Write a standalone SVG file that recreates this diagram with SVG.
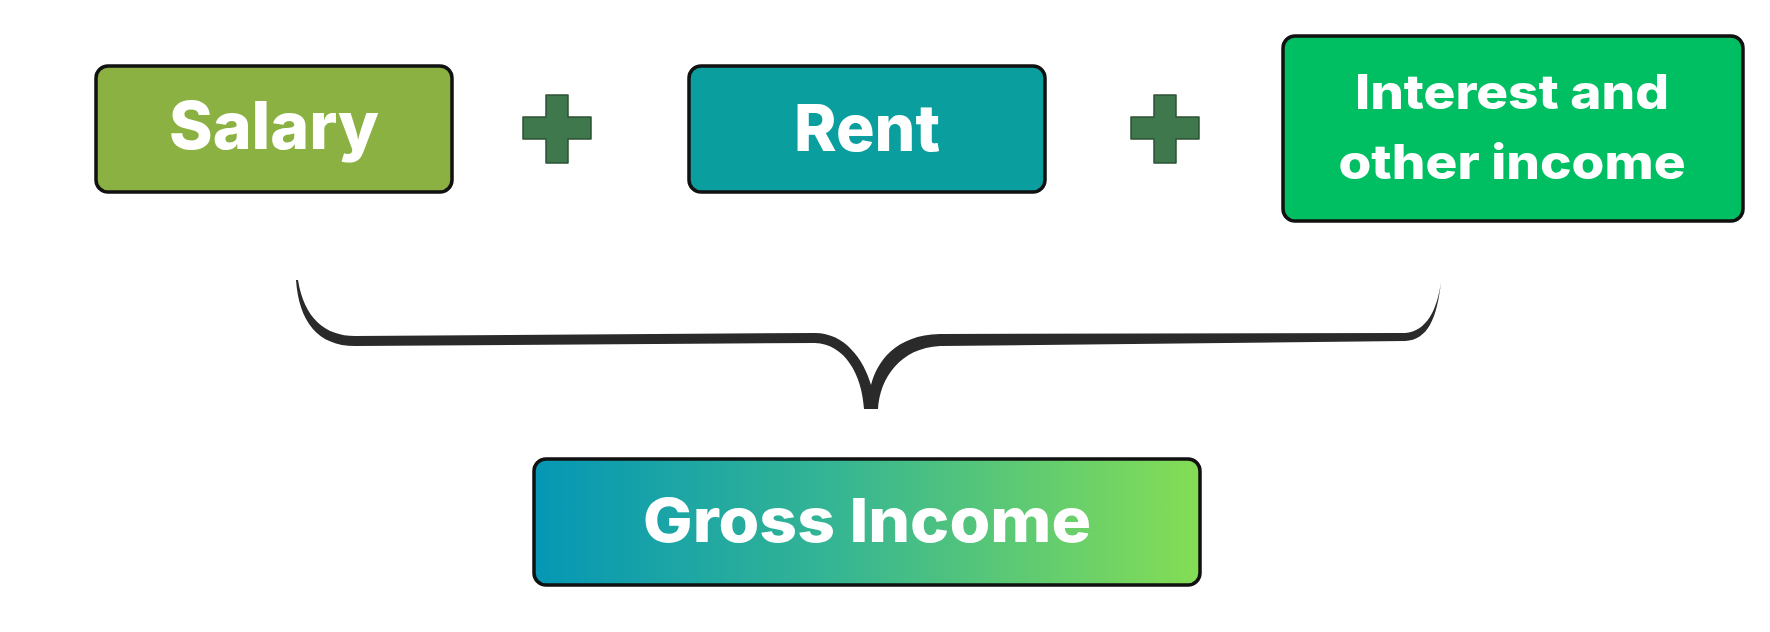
<svg xmlns="http://www.w3.org/2000/svg" width="1770" height="632" viewBox="0 0 1770 632">
  <defs>
    <linearGradient id="gGross" x1="0" y1="0" x2="1" y2="0">
      <stop offset="0" stop-color="#0597b5"/>
      <stop offset="0.45" stop-color="#35b593"/>
      <stop offset="1" stop-color="#84dd54"/>
    </linearGradient>
    <path id="plus" d="M-11,-34 H11 V-12 H34 V10 H11 V34 H-11 V10 H-34 V-12 H-11 Z"/>
  </defs>
  <style>
    .box { stroke: #111111; stroke-width: 3.5; }
    .lbl { font-family: Inter, "Open Sans", "Liberation Sans", sans-serif; font-weight: 800; fill: #ffffff; text-anchor: middle; }
    .plus { fill: #3e784c; stroke: #2c5236; stroke-width: 1.5; stroke-linejoin: round; }
    .brace { fill: #2a2a2a; }
  </style>
  <rect width="1770" height="632" fill="#ffffff"/>

  <g id="salary">
    <rect class="box" x="96" y="66" width="356" height="126" rx="12" fill="#8ab142"/>
    <text class="lbl" x="274" y="149" font-size="66" textLength="210" lengthAdjust="spacingAndGlyphs">Salary</text>
  </g>

  <g id="plus1">
    <use href="#plus" class="plus" x="557" y="129"/>
  </g>

  <g id="rent">
    <rect class="box" x="689" y="66" width="356" height="126" rx="12" fill="#0a9e9e"/>
    <text class="lbl" x="867" y="151" font-size="65" textLength="146" lengthAdjust="spacingAndGlyphs">Rent</text>
  </g>

  <g id="plus2">
    <use href="#plus" class="plus" x="1165" y="129"/>
  </g>

  <g id="interest">
    <rect class="box" x="1283" y="36" width="460" height="185" rx="12" fill="#00bf63"/>
    <text class="lbl" x="1512" y="109" font-size="48" textLength="314" lengthAdjust="spacingAndGlyphs">Interest and</text>
    <text class="lbl" x="1512" y="179" font-size="48" textLength="347" lengthAdjust="spacingAndGlyphs">other income</text>
  </g>

  <g id="connectors">
    <path class="brace" d="M296,280 C299,322 318,346 355,346 L815,343 C845,344 862,375 864,409 L878,409 C880,378 900,348 940,346 L1405,341 C1428,340 1437,318 1441,282 C1437,310 1427,331 1405,333 L940,334 C895,335 877,362 871,385 C864,360 845,333 815,333 L355,336 C325,336 304,318 298,280 Z"/>
  </g>

  <g id="gross">
    <rect class="box" x="534" y="459" width="666" height="126" rx="12" fill="url(#gGross)"/>
    <text class="lbl" x="867" y="542" font-size="61" textLength="448" lengthAdjust="spacingAndGlyphs">Gross Income</text>
  </g>
</svg>
